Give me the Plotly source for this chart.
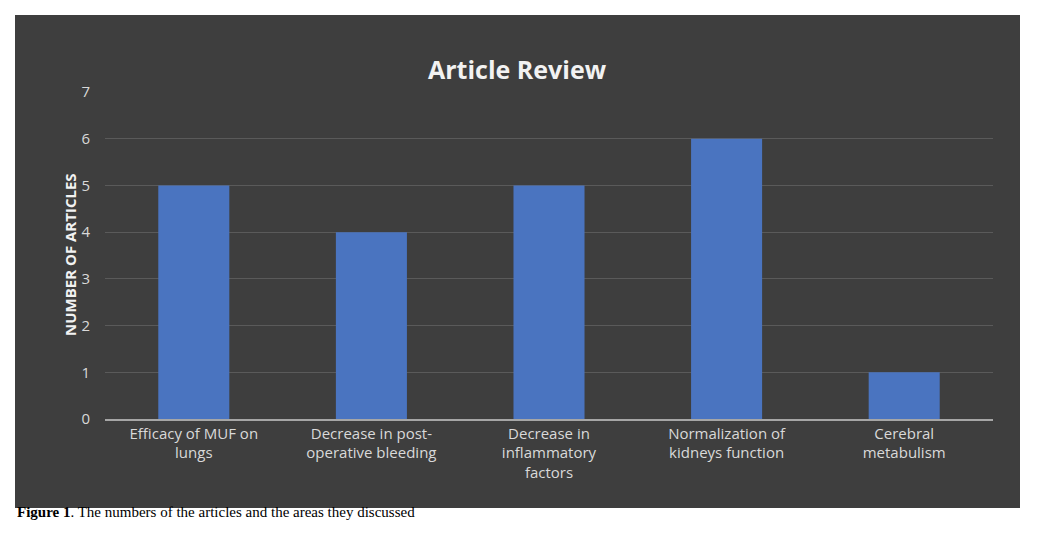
import plotly.graph_objects as go

categories = ["Efficacy of MUF on<br>lungs", "Decrease in post-<br>operative bleeding",
              "Decrease in<br>inflammatory<br>factors", "Normalization of<br>kidneys function",
              "Cerebral<br>metabulism"]
values = [5, 4, 5, 6, 1]

fig = go.Figure(go.Bar(x=categories, y=values, width=0.4,
                       marker=dict(color="#4a74c0", line=dict(width=0))))

OFF = 8
W, H = 1037, 537
L, R, T, B = 105 - OFF, 44 + OFF, 92 - OFF, 118 + OFF
pw, ph = W - L - R, H - T - B
px = lambda x: (x - OFF - L) / pw
py = lambda y: (H - B - (y - OFF)) / ph

fig.add_shape(type="rect", xref="paper", yref="paper", x0=px(15), x1=px(1020), y0=py(508), y1=py(15),
              fillcolor="#3e3e3e", line=dict(width=0), layer="below")

fig.update_layout(
    width=W, height=H, margin=dict(l=L, r=R, t=T, b=B),
    paper_bgcolor="white", plot_bgcolor="rgba(0,0,0,0)", showlegend=False,
    font=dict(family="Open Sans", color="#d9d9d9", size=15),
    xaxis=dict(showgrid=False, showline=True, linecolor="#a6a6a6", linewidth=1.5, tickfont=dict(size=15)),
    yaxis=dict(range=[0, 7], dtick=1, showgrid=True, gridcolor="#5a5a5a", zeroline=False,
               tickfont=dict(size=15), ticks="", ticklabelstandoff=14),
    annotations=[
        dict(text="<b>Article Review</b>", xref="paper", yref="paper", x=px(517), y=py(50),
             showarrow=False, font=dict(size=25, color="#f2f2f2", family="Open Sans")),
        dict(text="<b>NUMBER OF ARTICLES</b>", xref="paper", yref="paper", x=px(58), y=py(255),
             textangle=-90, showarrow=False, font=dict(size=15, color="#f2f2f2", family="Open Sans")),
        dict(text="<b>Figure 1</b>. The numbers of the articles and the areas they discussed",
             xref="paper", yref="paper", x=px(15), y=py(522), xanchor="left", showarrow=False,
             font=dict(size=15, color="black", family="Liberation Serif")),
    ],
)
fig.write_html("out.html")
